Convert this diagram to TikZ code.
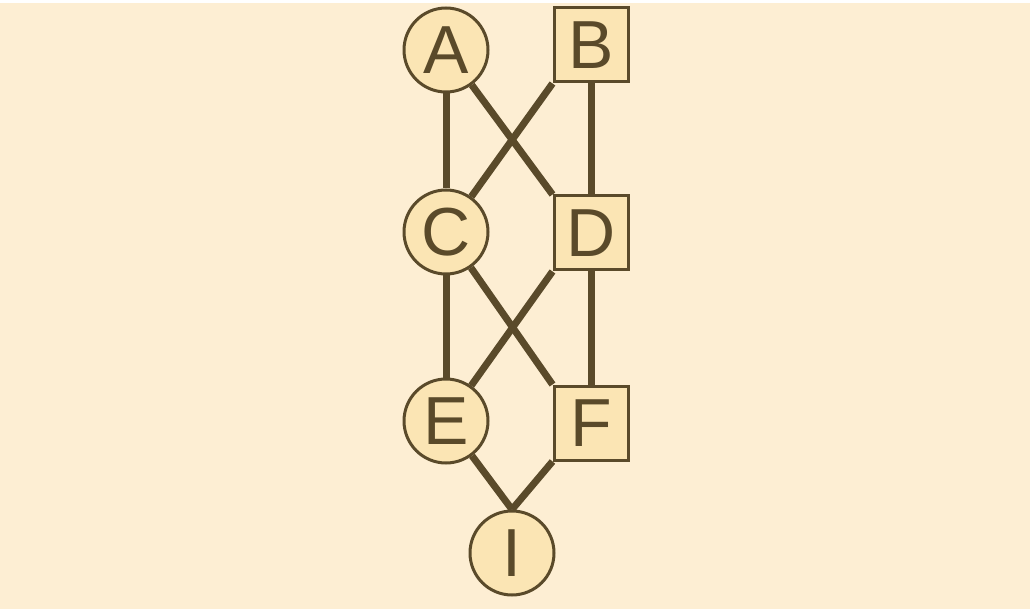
\documentclass[tikz,border=0pt]{standalone}
\usepackage{fontspec}
\setmainfont{Liberation Sans}
\definecolor{bgc}{HTML}{FDEED3}
\definecolor{fillc}{HTML}{FBE5B4}
\definecolor{inkc}{HTML}{5A4A2A}
\tikzset{
  base/.style={draw=inkc, fill=fillc, line width=3pt, text=inkc, font=\fontsize{68}{68}\selectfont, inner sep=0pt},
  circ/.style={base, circle, minimum size=84pt},
  sq/.style={base, rectangle, minimum size=74pt},
  edge/.style={draw=inkc, line width=7pt}
}
\begin{document}
\begin{tikzpicture}[x=1pt,y=-1pt]
\fill[white] (0,0) rectangle (1030,609);
\fill[bgc] (0,3) rectangle (1030,609);
\useasboundingbox (0,0) rectangle (1030,609);
\node[circ] (A) at (446,50) {A};
\node[sq] (B) at (591,45) {B};
\node[circ] (C) at (446,232) {C};
\node[sq] (D) at (591,233) {D};
\node[circ] (E) at (446,421) {E};
\node[sq] (F) at (591,423) {F};
\node[circ] (I) at (512,553) {I};
\draw[edge] (A) -- (C);
\draw[edge] (A) -- (D.north west);
\draw[edge] (B.south west) -- (C);
\draw[edge] (B) -- (D);
\draw[edge] (C) -- (E);
\draw[edge] (C) -- (F.north west);
\draw[edge] (D.south west) -- (E);
\draw[edge] (D) -- (F);
\draw[edge] (E) -- (I.north);
\draw[edge] (F.south west) -- (I.north);
\end{tikzpicture}
\end{document}
